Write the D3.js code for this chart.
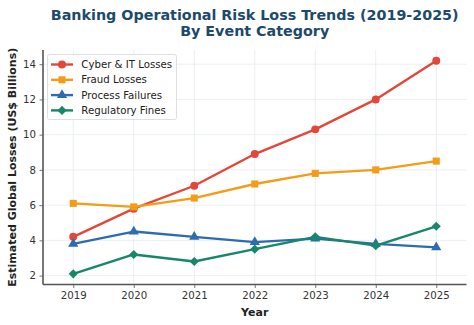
<!DOCTYPE html>
<html><head><meta charset="utf-8">
<script src="https://cdn.jsdelivr.net/npm/d3@7"></script>
<style>body{margin:0;background:#fff}svg{display:block}text{font-family:"DejaVu Sans",sans-serif}</style>
</head><body><svg id="c" width="474" height="325"></svg>
<script>
const years = [2019, 2020, 2021, 2022, 2023, 2024, 2025];
const cyber = [4.2, 5.8, 7.1, 8.9, 10.3, 12.0, 14.2];
const fraud = [6.1, 5.9, 6.4, 7.2, 7.8, 8.0, 8.5];
const process = [3.8, 4.5, 4.2, 3.9, 4.1, 3.8, 3.6];
const regulatory = [2.1, 3.2, 2.8, 3.5, 4.2, 3.7, 4.8];
const seriesNames = ["Cyber & IT Losses", "Fraud Losses", "Process Failures", "Regulatory Fines"];
const yTicks = [2, 4, 6, 8, 10, 12, 14];

const colors = ["#e2483a", "#f39c17", "#2c6cb0", "#16876a"];
const wideDiamond = { draw(ctx, size) { const r = Math.sqrt(size / 2); ctx.moveTo(0, -r); ctx.lineTo(r, 0); ctx.lineTo(0, r); ctx.lineTo(-r, 0); ctx.closePath(); } };
const symbols = [d3.symbolCircle, d3.symbolSquare, d3.symbolTriangle, wideDiamond];
const symSizes = [50, 50, 45, 42];
const allSeries = [cyber, fraud, process, regulatory];

const svg = d3.select("#c");
const L = 43, R = 466.5, T = 50, B = 284.5;
const x = d3.scaleLinear().domain([2018.5, 2025.5]).range([L, R]);
const y = d3.scaleLinear().domain([1.495, 14.805]).range([B, T]);

// grid
svg.append("g").selectAll("line").data(years).join("line")
  .attr("x1", d => x(d)).attr("x2", d => x(d)).attr("y1", T).attr("y2", B)
  .attr("stroke", "#e6ebf0").attr("stroke-width", 0.8);
svg.append("g").selectAll("line").data(yTicks).join("line")
  .attr("x1", L).attr("x2", R).attr("y1", d => y(d)).attr("y2", d => y(d))
  .attr("stroke", "#e6ebf0").attr("stroke-width", 0.8);

// axes
const xAxis = svg.append("g").attr("transform", `translate(0,${B})`)
  .call(d3.axisBottom(x).tickValues(years).tickFormat(d3.format("d")).tickSize(3.5).tickPadding(3.5));
const yAxis = svg.append("g").attr("transform", `translate(${L},0)`)
  .call(d3.axisLeft(y).tickValues(yTicks).tickSize(3.5).tickPadding(3.5));
[xAxis, yAxis].forEach(a => {
  a.select(".domain").attr("stroke", "#555").attr("stroke-width", 1.6);
  a.selectAll(".tick line").attr("stroke", "#555").attr("stroke-width", 0.8);
  a.selectAll(".tick text").attr("fill", "#333").style("font-size", "10.2px").style("font-family", "DejaVu Sans");
});
xAxis.select(".domain").attr("d", `M${L},0H${R}`);
yAxis.select(".domain").attr("d", `M0,${T}V${B}`);

// lines
const line = d3.line().x((d, i) => x(years[i])).y(d => y(d));
allSeries.forEach((s, k) => {
  svg.append("path").datum(s).attr("d", line).attr("fill", "none")
    .attr("stroke", colors[k]).attr("stroke-width", 2.4).attr("stroke-linejoin", "round");
  svg.append("g").selectAll("path").data(s).join("path")
    .attr("transform", (d, i) => `translate(${x(years[i])},${y(d)})`)
    .attr("d", d3.symbol().type(symbols[k]).size(symSizes[k]))
    .attr("fill", colors[k]);
});

// title
const title = svg.append("text").attr("x", 254.7).attr("text-anchor", "middle")
  .attr("fill", "#1d4a6b").style("font-weight", "bold").style("font-size", "14.3px");
title.append("tspan").attr("x", 254.7).attr("y", 19.5).text("Banking Operational Risk Loss Trends (2019-2025)");
title.append("tspan").attr("x", 254.7).attr("y", 36).text("By Event Category");

// axis labels
svg.append("text").attr("x", (L + R) / 2).attr("y", 316).attr("text-anchor", "middle")
  .attr("fill", "#222").style("font-weight", "bold").style("font-size", "11px").text("Year");
svg.append("text").attr("transform", `translate(16,${(T + B) / 2}) rotate(-90)`).attr("text-anchor", "middle")
  .attr("fill", "#222").style("font-weight", "bold").style("font-size", "11px")
  .text("Estimated Global Losses (US$ Billions)");

// legend
const lg = svg.append("g");
lg.append("rect").attr("x", 47.5).attr("y", 54.5).attr("width", 129).attr("height", 65).attr("rx", 2)
  .attr("fill", "rgba(255,255,255,0.9)").attr("stroke", "#d0d8e0").attr("stroke-width", 0.8);
seriesNames.forEach((n, k) => {
  const yy = 64.5 + k * 15.3;
  lg.append("line").attr("x1", 51).attr("x2", 73).attr("y1", yy).attr("y2", yy)
    .attr("stroke", colors[k]).attr("stroke-width", 2.4);
  lg.append("path").attr("transform", `translate(62,${yy})`)
    .attr("d", d3.symbol().type(symbols[k]).size(symSizes[k])).attr("fill", colors[k]);
  lg.append("text").attr("x", 81.3).attr("y", yy + 3.6).attr("fill", "#222")
    .style("font-size", "10.2px").text(n);
});
</script></body></html>
